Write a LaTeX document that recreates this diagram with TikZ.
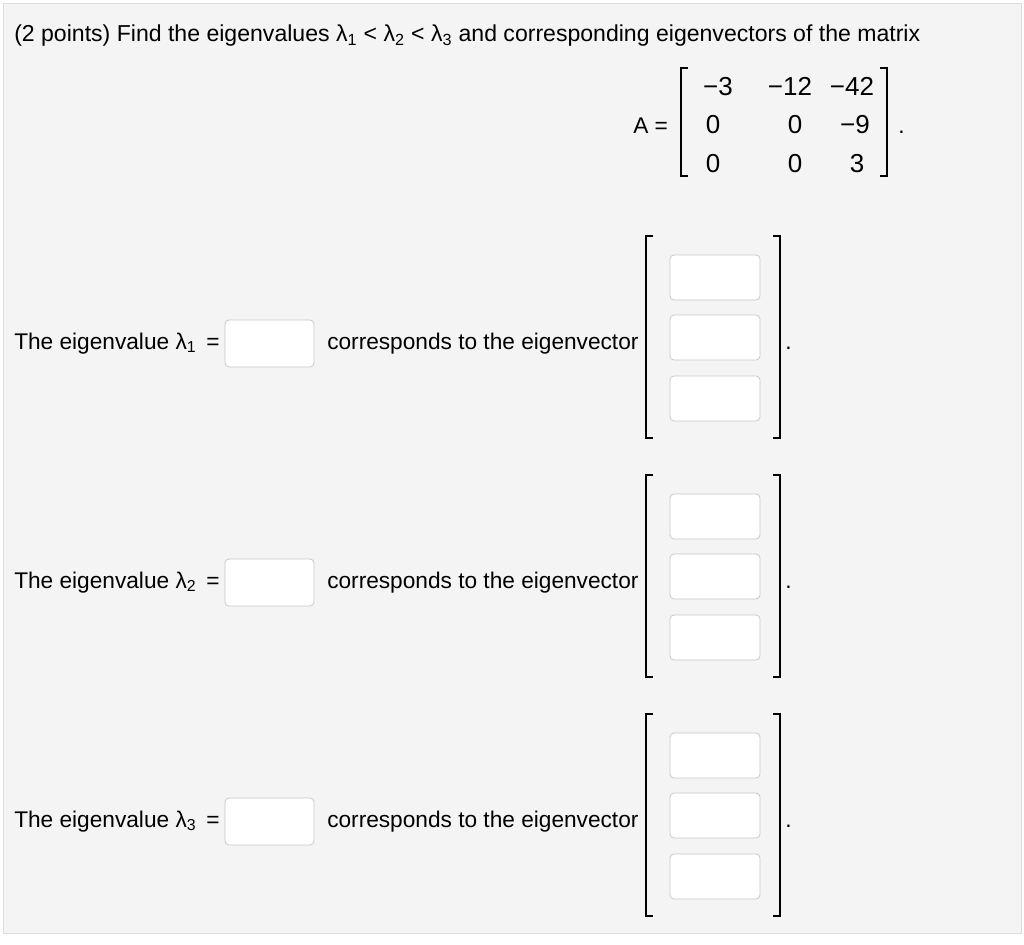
\documentclass[tikz,border=0pt]{standalone}
\usepackage{fontspec}
\setmainfont{Liberation Sans}
\usetikzlibrary{positioning}
\definecolor{panel}{HTML}{F4F4F4}
\definecolor{rim}{HTML}{DDDDDD}
\definecolor{boxrim}{HTML}{C8C8C8}
\tikzset{
  txt/.style={inner sep=0pt,anchor=base west},
  entry/.style={inner sep=0pt,anchor=base,font=\fontsize{19.5}{22}\selectfont},
  inbox/.style={draw=boxrim,fill=white,rounded corners=3pt,line width=0.6pt},
  brak/.style={line width=1pt}
}
\newcommand{\lam}[1]{λ\textsubscript{#1}}
\begin{document}
\begin{tikzpicture}[x=0.75pt,y=-0.75pt,font=\fontsize{17}{20}\selectfont]
\useasboundingbox (0,0) rectangle (1024,945);
\fill[white] (0,0) rectangle (1024,945);
\draw[rim,fill=panel] (3,3) rectangle (1021,933);
%title
\node[txt,font=\fontsize{17.3}{20}\selectfont] (title) at (14,42) {(2 points) Find the eigenvalues \lam{1} < \lam{2} < \lam{3} and corresponding eigenvectors of the matrix};
%matrix A
\node[txt] (aeq) at (633,134) {A =};
\draw[brak] (688,68) -- (681,68) -- (681,176) -- (688,176);
\draw[brak] (880,68) -- (887,68) -- (887,176) -- (880,176);
\node[entry] (a11) at (718,96) {−3};
\node[entry] (a12) at (790,96) {−12};
\node[entry] (a13) at (852,96) {−42};
\node[entry] (a21) at (713,134) {0};
\node[entry] (a22) at (795,134) {0};
\node[entry] (a23) at (855,134) {−9};
\node[entry] (a31) at (713,173) {0};
\node[entry] (a32) at (795,173) {0};
\node[entry] (a33) at (857,173) {3};
\node[txt] (adot) at (898,134) {.};
%eigenvalue rows
\foreach \i in {1,2,3}{
  \pgfmathsetmacro{\dy}{239*(\i-1)}
  \begin{scope}[yshift=-\dy*0.75pt]
  \node[txt] (ev\i) at (14,349) {The eigenvalue \lam{\i} \,=};
  \draw[inbox] (225,320) rectangle (314,367);
  \node[txt] (cor\i) at (327,349) {corresponds to the eigenvector};
  \draw[brak] (653,236) -- (646,236) -- (646,438) -- (653,438);
  \draw[brak] (773,236) -- (780,236) -- (780,438) -- (773,438);
  \foreach \t in {255,315,376}
    \draw[inbox] (670,\t) rectangle (760,\t+45);
  \node[txt] (dot\i) at (785,349) {.};
  \end{scope}
}
\end{tikzpicture}
\end{document}
